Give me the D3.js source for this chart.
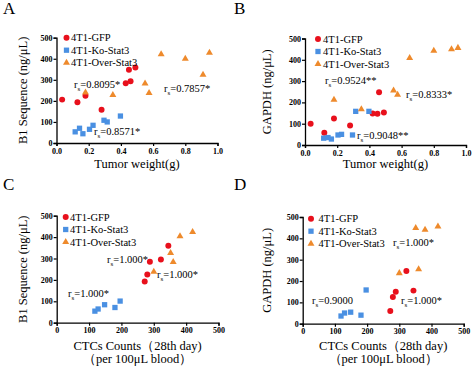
<!DOCTYPE html>
<html><head><meta charset="utf-8">
<script src="https://cdn.jsdelivr.net/npm/d3@7"></script>
<style>body{margin:0;background:#fff}svg{display:block}text{font-family:"Liberation Serif","Times New Roman",serif;fill:#000}</style>
</head><body><svg id="c" width="474" height="366"></svg>
<script>
const seriesNames = ["4T1-GFP", "4T1-Ko-Stat3", "4T1-Over-Stat3"];
const seriesColors = ["#e8101c", "#4a90e2", "#ee8a2c"];
const weightTicks = [0, 0.2, 0.4, 0.6, 0.8, 1.0];
const ctcTicks = [0, 100, 200, 300, 400, 500];
const yTicks = [0, 100, 200, 300, 400, 500];

// Panel A: tumor weight vs B1 sequence
const aGfpX = [0.035, 0.13, 0.18, 0.28, 0.43, 0.46, 0.45, 0.49];
const aGfpY = [206, 193, 224, 158, 284, 293, 348, 359];
const aKoX = [0.116, 0.143, 0.164, 0.205, 0.227, 0.295, 0.315, 0.397];
const aKoY = [53, 70, 44, 65, 84, 108, 100, 128];
const aOverX = [0.18, 0.35, 0.55, 0.575, 0.65, 0.8, 0.91, 0.95];
const aOverY = [240, 228, 282, 237, 421, 400, 324, 429];
// Panel B: tumor weight vs GAPDH
const bGfpX = [0.035, 0.12, 0.18, 0.28, 0.42, 0.45, 0.46, 0.49];
const bGfpY = [100, 57, 124, 92, 148, 147, 248, 153];
const bKoX = [0.116, 0.143, 0.164, 0.205, 0.227, 0.295, 0.315, 0.397];
const bKoY = [32, 35, 28, 47, 50, 47, 158, 158];
const bOverX = [0.18, 0.35, 0.55, 0.575, 0.65, 0.8, 0.91, 0.95];
const bOverY = [212, 168, 256, 236, 408, 442, 450, 456];
// Panel C: CTC counts vs B1 sequence
const cGfpX = [272, 280, 288, 322, 345];
const cGfpY = [193, 225, 285, 295, 360];
const cKoX = [118, 128, 148, 180, 196];
const cKoY = [54, 64, 84, 71, 101];
const cOverX = [300, 352, 360, 381, 420];
const cOverY = [238, 326, 284, 404, 424];
// Panel D: CTC counts vs GAPDH
const dGfpX = [272, 280, 289, 322, 344];
const dGfpY = [60, 125, 150, 247, 155];
const dKoX = [119, 130, 149, 181, 197];
const dKoY = [36, 50, 54, 40, 158];
const dOverX = [300, 360, 351, 380, 420];
const dOverY = [237, 255, 448, 440, 455];

const aStats = ["0.8095*", "0.7857*", "0.8571*"];
const bStats = ["0.9524**", "0.8333*", "0.9048**"];
const cStats = ["1.000*", "1.000*", "1.000*"];
const dStats = ["1.000*", "0.9000", "1.000*"];

const svg = d3.select("#c");
const zip = (xs, ys) => xs.map((x, i) => [x, ys[i]]);
const symTypes = [d3.symbolCircle, d3.symbolSquare, d3.symbolTriangle];
const symSizes = [28, 28, 21];

const panels = [
  {letter: "A", lx: 3, ly: 14, x0: 56.5, x1: 217.5, y0: 143, y1: 37.7, xd: [0, 1], xt: weightTicks, xf: d3.format(".1f"),
   ytitle: "B1 Sequence (ng/\u03bcL)", ytx: 27, xtitle: ["Tumor weight(g)"], xty: 168,
   series: [zip(aGfpX, aGfpY), zip(aKoX, aKoY), zip(aOverX, aOverY)],
   leg: [66.5, 37.7, 71], stats: aStats, statPos: [[74, 88], [164, 92], [94, 135]]},
  {letter: "B", lx: 234, ly: 14, x0: 305, x1: 466, y0: 145, y1: 38.5, xd: [0, 1], xt: weightTicks, xf: d3.format(".1f"),
   ytitle: "GAPDH (ng/\u03bcL)", ytx: 271, xtitle: ["Tumor weight(g)"], xty: 168,
   series: [zip(bGfpX, bGfpY), zip(bKoX, bKoY), zip(bOverX, bOverY)],
   leg: [318, 39, 323], stats: bStats, statPos: [[325, 84], [406, 98], [357, 139]]},
  {letter: "C", lx: 3, ly: 190, x0: 56.7, x1: 218.5, y0: 322.7, y1: 215.7, xd: [0, 500], xt: ctcTicks, xf: d3.format("d"),
   ytitle: "B1 Sequence (ng/\u03bcL)", ytx: 27, xtitle: ["CTCs  Counts\uff0828th day)", "\uff08per 100\u03bcL blood\uff09"], xty: 350,
   series: [zip(cGfpX, cGfpY), zip(cKoX, cKoY), zip(cOverX, cOverY)],
   leg: [65.7, 217, 70], stats: cStats, statPos: [[107, 263], [157, 278], [68, 297]]},
  {letter: "D", lx: 234, ly: 190, x0: 302.7, x1: 463.7, y0: 323.7, y1: 217, xd: [0, 500], xt: ctcTicks, xf: d3.format("d"),
   ytitle: "GAPDH (ng/\u03bcL)", ytx: 271, xtitle: ["CTCs  Counts\uff0828th day)", "\uff08per 100\u03bcL blood\uff09"], xty: 350,
   series: [zip(dGfpX, dGfpY), zip(dKoX, dKoY), zip(dOverX, dOverY)],
   leg: [311, 218.7, 318.5], stats: dStats, statPos: [[393, 246], [312, 304], [401, 304]]}
];

panels.forEach(p => {
  const x = d3.scaleLinear().domain(p.xd).range([p.x0, p.x1]);
  const y = d3.scaleLinear().domain([0, 500]).range([p.y0, p.y1]);
  const g = svg.append("g");

  g.append("text").attr("x", p.lx).attr("y", p.ly).attr("font-size", 17).text(p.letter);

  const ax = g.append("g").attr("transform", `translate(0,${p.y0})`)
    .call(d3.axisBottom(x).tickValues(p.xt).tickFormat(p.xf).tickSize(3).tickPadding(2));
  const ay = g.append("g").attr("transform", `translate(${p.x0},0)`)
    .call(d3.axisLeft(y).tickValues(yTicks).tickSize(3).tickPadding(1));
  [ax, ay].forEach(a => {
    a.select(".domain").attr("stroke", "#000").attr("stroke-width", 1.3);
    a.selectAll(".tick line").attr("stroke", "#000").attr("stroke-width", 1.2);
    a.selectAll(".tick text").attr("font-family", "Liberation Serif").attr("font-weight", "bold").attr("font-size", 8);
  });

  g.append("text").attr("transform", `translate(${p.ytx},${(p.y0 + p.y1) / 2}) rotate(-90)`)
    .attr("text-anchor", "middle").attr("font-size", 12.5).text(p.ytitle);
  p.xtitle.forEach((t, i) => {
    g.append("text").attr("x", (p.x0 + p.x1) / 2).attr("y", p.xty + i * 13)
      .attr("text-anchor", "middle").attr("font-size", 12.5).text(t);
  });

  p.series.forEach((pts, si) => {
    const sym = d3.symbol().type(symTypes[si]).size(symSizes[si]);
    g.append("g").selectAll("path").data(pts).join("path")
      .attr("transform", d => `translate(${x(d[0])},${y(d[1])})`)
      .attr("d", sym).attr("fill", seriesColors[si]);
    const ly = p.leg[1] + si * 12.5;
    g.append("path").attr("transform", `translate(${p.leg[0]},${ly})`)
      .attr("d", sym).attr("fill", seriesColors[si]);
    g.append("text").attr("x", p.leg[2]).attr("y", ly + 3.6).attr("font-size", 10.5).text(seriesNames[si]);
  });

  p.stats.forEach((s, i) => {
    const t = g.append("text").attr("x", p.statPos[i][0]).attr("y", p.statPos[i][1]).attr("font-size", 10.5);
    t.append("tspan").text("r");
    t.append("tspan").attr("font-size", 7).attr("dy", 2.5).text("s");
    t.append("tspan").attr("dy", -2.5).text("=" + s);
  });
});
</script></body></html>
